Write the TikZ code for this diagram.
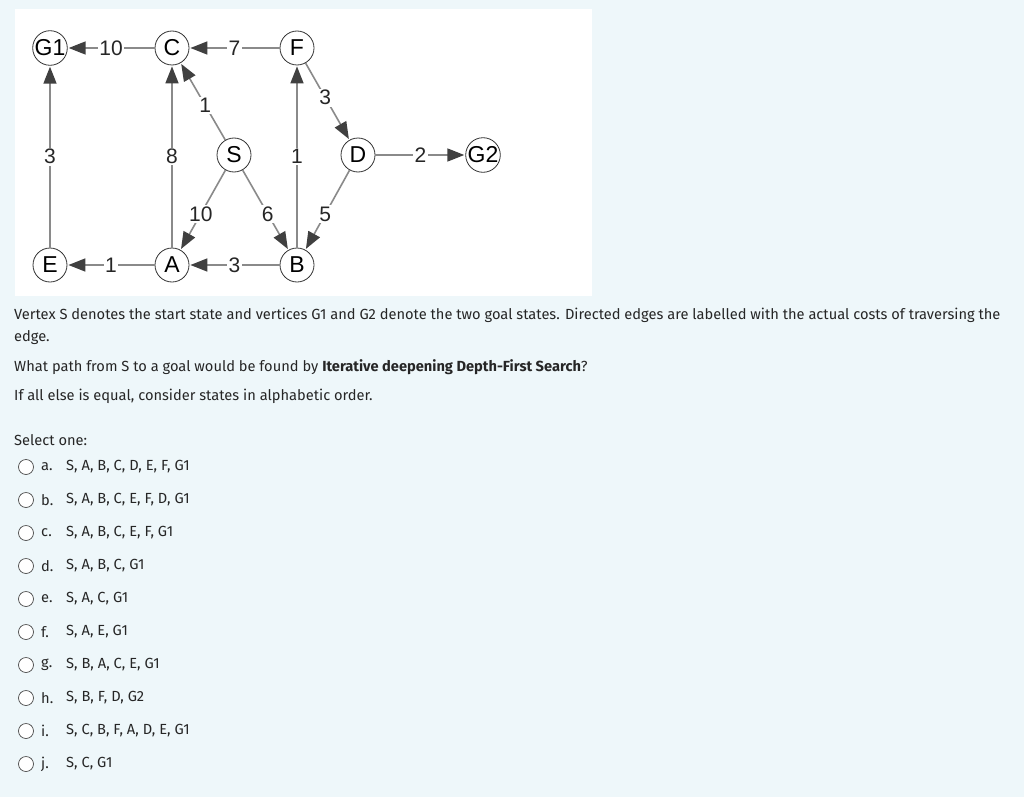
\documentclass[tikz,border=0pt]{standalone}
\usepackage{fontspec}
\setmainfont{Fira Sans}
\newfontfamily\graphfont{Liberation Sans}
\usetikzlibrary{arrows.meta}
\definecolor{bgblue}{HTML}{EEF7FA}
\definecolor{edgegray}{HTML}{8A8A8A}
\definecolor{tipgray}{HTML}{404040}
\begin{document}
\begin{tikzpicture}[x=1pt,y=-1pt,
  vtx/.style={circle,draw=black!80,line width=0.8pt,fill=white,minimum size=34pt,inner sep=0pt,font=\graphfont\fontsize{23}{23}\selectfont},
  edge/.style={draw=edgegray,line width=1.6pt,-{Triangle[length=17pt,width=13pt,color=tipgray]},shorten >=1pt},
  lbl/.style={fill=white,inner sep=1.5pt,font=\graphfont\fontsize{21}{21}\selectfont,text=black!85},
  txt/.style={anchor=west,inner sep=0pt,font=\fontsize{14.65}{14.65}\selectfont,text=black!85},
  radio/.style={circle,draw=black!70,line width=0.7pt,fill=white,minimum size=15pt,inner sep=0pt}]
\fill[bgblue] (0,0) rectangle (1024,797);
\useasboundingbox (0,0) rectangle (1024,797);
\fill[white] (15,9) rectangle (592,296);
\node[vtx] (G1) at (50,48) {G1};
\node[vtx] (C) at (172,48) {C};
\node[vtx] (F) at (297,48) {F};
\node[vtx] (S) at (234,155) {S};
\node[vtx] (D) at (358,155) {D};
\node[vtx] (G2) at (483,155) {G2};
\node[vtx] (E) at (50,265) {E};
\node[vtx] (A) at (172,265) {A};
\node[vtx] (B) at (297,265) {B};
\draw[edge] (C) -- node[lbl]{10} (G1);
\draw[edge] (F) -- node[lbl]{7} (C);
\draw[edge] (S) -- node[lbl,pos=0.45]{1} (C);
\draw[edge] (A) -- node[lbl]{8} (C);
\draw[edge] (E) -- node[lbl]{3} (G1);
\draw[edge] (S) -- node[lbl,pos=0.55]{10} (A);
\draw[edge] (S) -- node[lbl,pos=0.55]{6} (B);
\draw[edge] (B) -- node[lbl]{1} (F);
\draw[edge] (F) -- node[lbl,pos=0.45]{3} (D);
\draw[edge] (D) -- node[lbl,pos=0.55]{5} (B);
\draw[edge] (D) -- node[lbl]{2} (G2);
\draw[edge] (A) -- node[lbl]{1} (E);
\draw[edge] (B) -- node[lbl]{3} (A);
\node[txt] (t1) at (14,315) {Vertex S denotes the start state and vertices G1 and G2 denote the two goal states. Directed edges are labelled with the actual costs of traversing the};
\node[txt] (t2) at (14,338) {edge.};
\node[txt] (t3) at (14,367) {What path from S to a goal would be found by \textbf{Iterative deepening Depth-First Search}?};
\node[txt] (t4) at (14,396) {If all else is equal, consider states in alphabetic order.};
\node[txt] (t5) at (14,440) {Select one:};
\foreach \y/\l/\t [count=\i] in {467/a./{S, A, B, C, D, E, F, G1},500/b./{S, A, B, C, E, F, D, G1},533/c./{S, A, B, C, E, F, G1},566/d./{S, A, B, C, G1},599/e./{S, A, C, G1},632/f./{S, A, E, G1},665/g./{S, B, A, C, E, G1},698/h./{S, B, F, D, G2},731/i./{S, C, B, F, A, D, E, G1},764/j./{S, C, G1}}{
  \node[radio] (r\i) at (26,\y) {};
  \node[txt] (l\i) at (41,\y) {\l};
  \node[txt] (o\i) at (66,\y) {\t};
}
\end{tikzpicture}
\end{document}
